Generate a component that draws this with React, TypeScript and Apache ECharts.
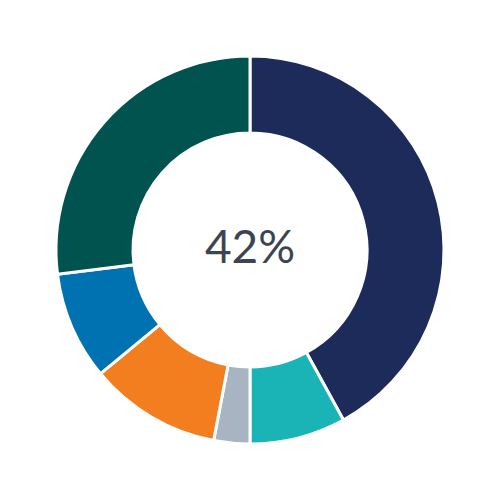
import { useEffect, useRef } from 'react';
import * as echarts from 'echarts';

const categories = ['A', 'B', 'C', 'D', 'E', 'F'];
const values = [42, 8, 3, 11, 9, 27];
const colors = ['#1c2b59', '#1ab4b7', '#a8b4c2', '#f37e20', '#0072b1', '#015350'];
const centerLabel = '42%';

export default function App() {
  const chartRef = useRef<HTMLDivElement>(null);

  useEffect(() => {
    if (!chartRef.current) return;
    const chart = echarts.init(chartRef.current, undefined, { renderer: 'svg' });

    chart.setOption({
      animation: false,
      graphic: [
        {
          type: 'text',
          left: 'center',
          top: 222,
          style: {
            text: centerLabel,
            fontFamily: 'Lato',
            fontWeight: 400,
            fontSize: 46,
            fill: '#3c4450',
          },
        },
      ],
      series: [
        {
          type: 'pie',
          center: ['50%', '50%'],
          radius: [117, 194],
          startAngle: 90,
          clockwise: true,
          label: { show: false },
          labelLine: { show: false },
          itemStyle: { borderColor: '#ffffff', borderWidth: 3 },
          data: categories.map((name, i) => ({
            name,
            value: values[i],
            itemStyle: { color: colors[i] },
          })),
        },
      ],
    });

    return () => chart.dispose();
  }, []);

  return (
    <div
      ref={chartRef}
      style={{ width: 500, height: 500, margin: -8, background: '#ffffff' }}
    />
  );
}
